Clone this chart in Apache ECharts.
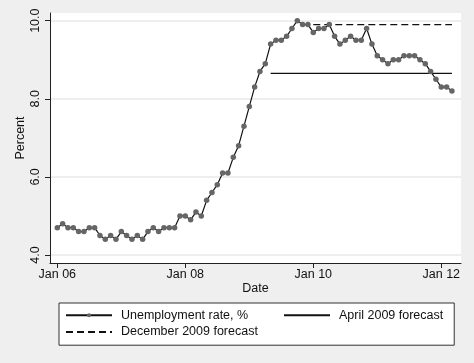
<!DOCTYPE html>
<html>
<head>
<meta charset="utf-8">
<script src="https://cdn.jsdelivr.net/npm/echarts@6/dist/echarts.min.js"></script>
<style>
html,body{margin:0;padding:0;background:#efefef;}
#c{width:474px;height:363px;}
</style>
</head>
<body>
<div id="c"></div>
<script>
// Monthly unemployment rate, Jan 2006 - Mar 2012
const startYear = 2006;
const rate2006 = [4.7, 4.8, 4.7, 4.7, 4.6, 4.6, 4.7, 4.7, 4.5, 4.4, 4.5, 4.4];
const rate2007 = [4.6, 4.5, 4.4, 4.5, 4.4, 4.6, 4.7, 4.6, 4.7, 4.7, 4.7, 5.0];
const rate2008 = [5.0, 4.9, 5.1, 5.0, 5.4, 5.6, 5.8, 6.1, 6.1, 6.5, 6.8, 7.3];
const rate2009 = [7.8, 8.3, 8.7, 8.9, 9.4, 9.5, 9.5, 9.6, 9.8, 10.0, 9.9, 9.9];
const rate2010 = [9.7, 9.8, 9.8, 9.9, 9.6, 9.4, 9.5, 9.6, 9.5, 9.5, 9.8, 9.4];
const rate2011 = [9.1, 9.0, 8.9, 9.0, 9.0, 9.1, 9.1, 9.1, 9.0, 8.9, 8.7, 8.5];
const rate2012 = [8.3, 8.3, 8.2];

// Forecasts: [start "YYYY-MM", end "YYYY-MM"], value
const aprilForecastSpan = ['2009-05', '2012-03'];
const aprilForecastValue = 8.65;
const decForecastSpan = ['2010-01', '2012-03'];
const decForecastValue = 9.9;

const xTickDates = ['2006-01', '2008-01', '2010-01', '2012-01'];
const xTickLabels = ['Jan 06', 'Jan 08', 'Jan 10', 'Jan 12'];
const yTickValues = [4, 6, 8, 10];
const yTickLabels = ['4.0', '6.0', '8.0', '10.0'];

const seriesNames = ['Unemployment rate, %', 'April 2009 forecast', 'December 2009 forecast'];

function monthIndex(s) {
  const [y, m] = s.split('-').map(Number);
  return (y - startYear) * 12 + (m - 1);
}

const allRates = [].concat(rate2006, rate2007, rate2008, rate2009, rate2010, rate2011, rate2012);
const rateData = allRates.map((v, i) => [i, v]);
const aprilData = aprilForecastSpan.map(d => [monthIndex(d), aprilForecastValue]);
const decData = decForecastSpan.map(d => [monthIndex(d), decForecastValue]);
const xTickValues = xTickDates.map(monthIndex);

const FONT = '"Liberation Sans", Arial, sans-serif';
const chart = echarts.init(document.getElementById('c'), null, {renderer: 'canvas'});
chart.setOption({
  backgroundColor: '#efefef',
  animation: false,
  textStyle: {fontFamily: FONT},
  grid: {left: 50, right: 13, top: 13, bottom: 100, show: true, backgroundColor: '#ffffff', borderWidth: 0, containLabel: false},
  xAxis: {
    type: 'value',
    min: -1.37, max: 75.7,
    name: 'Date', nameLocation: 'middle', nameGap: 19, nameMoveOverlap: false,
    nameTextStyle: {fontSize: 12.5, color: '#111', fontFamily: FONT},
    axisLine: {show: true, onZero: false, lineStyle: {color: '#222', width: 1}},
    axisTick: {show: true, length: 5, lineStyle: {color: '#222'}, customValues: xTickValues},
    axisLabel: {fontSize: 12.5, color: '#111', margin: 5, fontFamily: FONT, customValues: xTickValues,
      formatter: v => xTickLabels[xTickValues.indexOf(v)] || ''},
    splitLine: {show: false}
  },
  yAxis: {
    type: 'value',
    min: 3.795, max: 10.197,
    name: 'Percent', nameLocation: 'middle', nameGap: 23, nameMoveOverlap: false,
    nameTextStyle: {fontSize: 12.5, color: '#111', fontFamily: FONT},
    axisLine: {show: true, onZero: false, lineStyle: {color: '#222', width: 1}},
    axisTick: {show: true, length: 5, lineStyle: {color: '#222'}, customValues: yTickValues},
    axisLabel: {fontSize: 12.5, color: '#111', margin: 8, rotate: 90, fontFamily: FONT, customValues: yTickValues,
      formatter: v => yTickLabels[yTickValues.indexOf(v)] || ''},
    splitLine: {show: true, lineStyle: {color: '#e8e8e8', width: 1.5}}
  },
  legend: {
    left: 59, top: 303,
    width: 380,
    orient: 'horizontal',
    padding: [5, 11, 6, 6],
    itemGap: 2,
    itemWidth: 46, itemHeight: 5,
    backgroundColor: '#ffffff',
    borderColor: '#333', borderWidth: 1, borderRadius: 0,
    textStyle: {fontSize: 12.5, color: '#111', lineHeight: 14.6, fontFamily: FONT, padding: [0, 0, 0, 4]},
    data: [
      {name: seriesNames[0], textStyle: {width: 160}},
      {name: seriesNames[1], itemStyle: {opacity: 0}},
      {name: seriesNames[2], itemStyle: {opacity: 0}}
    ]
  },
  series: [
    {
      name: seriesNames[0], type: 'line', data: rateData,
      symbol: 'circle', symbolSize: 5.5, showSymbol: true,
      itemStyle: {color: '#666666'},
      lineStyle: {color: '#111', width: 1.2},
      z: 3
    },
    {
      name: seriesNames[1], type: 'line', data: aprilData, symbol: 'none',
      itemStyle: {color: '#111'},
      lineStyle: {color: '#111', width: 1.3, type: 'solid'}
    },
    {
      name: seriesNames[2], type: 'line', data: decData, symbol: 'none',
      itemStyle: {color: '#111'},
      lineStyle: {color: '#111', width: 1.3, type: [7, 4]}
    }
  ]
});
</script>
</body>
</html>
